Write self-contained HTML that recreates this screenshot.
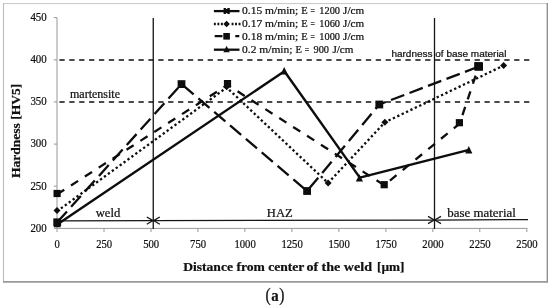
<!DOCTYPE html>
<html><head><meta charset="utf-8"><title>Hardness chart</title>
<style>
html,body{margin:0;padding:0;background:#fff;}
body{width:550px;height:308px;overflow:hidden;}
svg{display:block;}
text{font-family:"Liberation Serif","DejaVu Serif",serif;fill:#111;stroke:#111;stroke-width:0.22px;}
.t{font-size:11.5px;}
.l{font-size:10.5px;}
.b{font-weight:bold;}
.s{font-family:"Liberation Sans","DejaVu Sans",sans-serif;}
</style></head><body>
<svg width="550" height="308" viewBox="0 0 550 308">
<rect x="0" y="0" width="550" height="308" fill="#fff"/>
<path d="M3 3.6H547.8" stroke="#c6c6c6" stroke-width="1" fill="none"/>
<path d="M3.5 3.3V282.6" stroke="#bcbcbc" stroke-width="1.1" fill="none"/>
<path d="M547.3 3.1V282.6" stroke="#929292" stroke-width="1.4" fill="none"/>
<path d="M3 281.8H548" stroke="#999" stroke-width="1.8" fill="none"/>

<g stroke="#989898" stroke-width="1" fill="none">
<path d="M57.0 17.6V228.4H527.3"/>
<path d="M53.8 228.4H57.0"/>
<path d="M53.8 186.2H57.0"/>
<path d="M53.8 144.1H57.0"/>
<path d="M53.8 101.9H57.0"/>
<path d="M53.8 59.8H57.0"/>
<path d="M53.8 17.6H57.0"/>
<path d="M57.0 228.4V232.0"/>
<path d="M104.0 228.4V232.0"/>
<path d="M151.0 228.4V232.0"/>
<path d="M197.9 228.4V232.0"/>
<path d="M244.9 228.4V232.0"/>
<path d="M291.9 228.4V232.0"/>
<path d="M338.9 228.4V232.0"/>
<path d="M385.9 228.4V232.0"/>
<path d="M432.8 228.4V232.0"/>
<path d="M479.8 228.4V232.0"/>
<path d="M526.8 228.4V232.0"/>
</g>
<g class="t" text-anchor="end">
<text x="46.7" y="21" textLength="16.3" lengthAdjust="spacingAndGlyphs">450</text>
<text x="46.7" y="63" textLength="16.3" lengthAdjust="spacingAndGlyphs">400</text>
<text x="46.7" y="105" textLength="16.3" lengthAdjust="spacingAndGlyphs">350</text>
<text x="46.7" y="147" textLength="16.3" lengthAdjust="spacingAndGlyphs">300</text>
<text x="46.7" y="190" textLength="16.3" lengthAdjust="spacingAndGlyphs">250</text>
<text x="46.7" y="232" textLength="16.3" lengthAdjust="spacingAndGlyphs">200</text>
</g>
<g class="t" text-anchor="middle">
<text x="57.2" y="248" textLength="5.3" lengthAdjust="spacingAndGlyphs">0</text>
<text x="104.2" y="248" textLength="16.0" lengthAdjust="spacingAndGlyphs">250</text>
<text x="151.2" y="248" textLength="16.0" lengthAdjust="spacingAndGlyphs">500</text>
<text x="198.1" y="248" textLength="16.0" lengthAdjust="spacingAndGlyphs">750</text>
<text x="245.1" y="248" textLength="21.4" lengthAdjust="spacingAndGlyphs">1000</text>
<text x="292.1" y="248" textLength="21.4" lengthAdjust="spacingAndGlyphs">1250</text>
<text x="339.1" y="248" textLength="21.4" lengthAdjust="spacingAndGlyphs">1500</text>
<text x="386.1" y="248" textLength="21.4" lengthAdjust="spacingAndGlyphs">1750</text>
<text x="433.0" y="248" textLength="21.4" lengthAdjust="spacingAndGlyphs">2000</text>
<text x="480.0" y="248" textLength="21.4" lengthAdjust="spacingAndGlyphs">2250</text>
<text x="527.0" y="248" textLength="21.4" lengthAdjust="spacingAndGlyphs">2500</text>
</g>
<g stroke="#111" stroke-width="1.5" stroke-dasharray="5.3 4.586" stroke-dashoffset="8.49" fill="none">
<path d="M58 59.9H530"/>
<path d="M58 101.9H530"/>
</g>
<g stroke="#151515" stroke-width="1.3" fill="none">
<path d="M153.25 18V229"/>
<path d="M434.5 18V229"/>
<path d="M58 220.8L153.3 220.6L434.5 220L528 219.6" stroke-width="1.25"/>
<path d="M146.8 217.0L153.0 220.6L146.8 224.2" stroke-width="1.25"/>
<path d="M159.8 217.0L153.6 220.6L159.8 224.2" stroke-width="1.25"/>
<path d="M428.0 216.4L434.2 220.0L428.0 223.6" stroke-width="1.25"/>
<path d="M441.0 216.4L434.8 220.0L441.0 223.6" stroke-width="1.25"/>
</g>
<g stroke="#0d0d0d" stroke-width="2.3" fill="none" stroke-linejoin="round">
<path d="M57.2 222.3L181.5 84.1L307.1 191.0L379.3 104.5" stroke-dasharray="14.6 6.2"/>
<path d="M379.3 104.5L478.7 66.6" stroke-dasharray="14.2 5.6" stroke-dashoffset="7.3"/>
<path d="M57.0 211.3L226.7 87.5L328.1 183.0L384.9 122.3L503.6 65.6" stroke-dasharray="2.3 2.55"/>
<path d="M57.1 194.4L227.5 84.9L384.2 185.2L459.6 123.6L478.7 66.6" stroke-dasharray="8.5 8"/>
<path d="M57.2 224.4L284.4 71.2L359.8 177.6L468.0 150.1" stroke-width="2.4"/>
</g>
<g fill="#0d0d0d" stroke="none">
<rect x="53.3" y="218.4" width="7.8" height="7.8"/>
<rect x="177.6" y="80.2" width="7.8" height="7.8"/>
<rect x="303.2" y="187.1" width="7.8" height="7.8"/>
<rect x="375.4" y="100.6" width="7.8" height="7.8"/>
<rect x="474.8" y="62.5" width="8.2" height="8.2"/>
<path d="M53.5 210.6L57.0 207.1L60.5 210.6L57.0 214.1Z"/>
<path d="M223.2 86.8L226.7 83.3L230.2 86.8L226.7 90.3Z"/>
<path d="M324.6 183.0L328.1 179.5L331.6 183.0L328.1 186.5Z"/>
<path d="M381.4 122.3L384.9 118.8L388.4 122.3L384.9 125.8Z"/>
<path d="M500.1 65.6L503.6 62.1L507.1 65.6L503.6 69.1Z"/>
<rect x="53.5" y="189.9" width="7.2" height="7.2"/>
<rect x="223.9" y="80.0" width="7.2" height="7.2"/>
<rect x="380.6" y="181.1" width="7.2" height="7.2"/>
<rect x="455.8" y="119.1" width="7.2" height="7.2"/>
<rect x="474.2" y="62.1" width="8.2" height="8.2"/>
<path d="M53.6 227.2L57.2 219.8L60.8 227.2Z"/>
<path d="M280.6 74.5L284.2 67.1L287.8 74.5Z"/>
<path d="M355.8 181.6L359.4 174.2L363.0 181.6Z"/>
<path d="M465.2 153.4L468.8 146.0L472.4 153.4Z"/>
</g>
<rect x="209" y="5" width="158" height="50" fill="#fff"/>
<g stroke="#0d0d0d" stroke-width="2.3" fill="none">
<path d="M213.9 11.1H239.5"/>
<path d="M213.9 24.0H222.9M231.6 24.0H240.6" stroke-dasharray="1.9 1.6"/>
<path d="M214.7 36.2H222.5M235.3 36.2H239.3"/>
<path d="M213.9 49.7H239.5"/>
</g>
<g fill="#0d0d0d">
<path d="M223.6 7.9H225.6L226.7 9.2L227.8 7.9H229.8V14.1H227.8L226.7 12.8L225.6 14.1H223.6Z"/>
<path d="M223.3 24.0L226.6 20.7L229.9 24.0L226.6 27.3Z"/>
<rect x="223.3" y="33.0" width="6.6" height="6.6"/>
<path d="M223.4 52.2L226.6 45.7L229.8 52.2Z"/>
</g>
<g class="l">
<text x="242.0" y="14.0" textLength="56.3" lengthAdjust="spacingAndGlyphs">0.15 m/min;</text>
<text x="301.2" y="14.0" textLength="6.4" lengthAdjust="spacingAndGlyphs">E</text>
<text x="310.6" y="14.0" textLength="4.4" lengthAdjust="spacingAndGlyphs">=</text>
<text x="319.3" y="14.0" textLength="20.7" lengthAdjust="spacingAndGlyphs">1200</text>
<text x="343.1" y="14.0" textLength="21.0" lengthAdjust="spacingAndGlyphs">J/cm</text>
<text x="242.0" y="27.0" textLength="56.3" lengthAdjust="spacingAndGlyphs">0.17 m/min;</text>
<text x="301.2" y="27.0" textLength="6.4" lengthAdjust="spacingAndGlyphs">E</text>
<text x="310.6" y="27.0" textLength="4.4" lengthAdjust="spacingAndGlyphs">=</text>
<text x="319.3" y="27.0" textLength="20.7" lengthAdjust="spacingAndGlyphs">1060</text>
<text x="343.1" y="27.0" textLength="21.0" lengthAdjust="spacingAndGlyphs">J/cm</text>
<text x="242.0" y="40.0" textLength="56.3" lengthAdjust="spacingAndGlyphs">0.18 m/min;</text>
<text x="301.2" y="40.0" textLength="6.4" lengthAdjust="spacingAndGlyphs">E</text>
<text x="310.6" y="40.0" textLength="4.4" lengthAdjust="spacingAndGlyphs">=</text>
<text x="319.3" y="40.0" textLength="20.7" lengthAdjust="spacingAndGlyphs">1000</text>
<text x="343.1" y="40.0" textLength="21.0" lengthAdjust="spacingAndGlyphs">J/cm</text>
<text x="242.0" y="53.0" textLength="50.5" lengthAdjust="spacingAndGlyphs">0.2 m/min;</text>
<text x="295.4" y="53.0" textLength="6.4" lengthAdjust="spacingAndGlyphs">E</text>
<text x="304.8" y="53.0" textLength="4.4" lengthAdjust="spacingAndGlyphs">=</text>
<text x="313.5" y="53.0" textLength="15.5" lengthAdjust="spacingAndGlyphs">900</text>
<text x="332.4" y="53.0" textLength="21.0" lengthAdjust="spacingAndGlyphs">J/cm</text>
</g>
<g>
<text font-size="11.6" x="70" y="98" textLength="50" lengthAdjust="spacingAndGlyphs">martensite</text>
<text font-size="12" x="95.7" y="217" textLength="24.6" lengthAdjust="spacingAndGlyphs">weld</text>
<text font-size="12" x="266.8" y="217" textLength="26" lengthAdjust="spacingAndGlyphs">HAZ</text>
<text font-size="12" x="447.3" y="217" textLength="68.5" lengthAdjust="spacingAndGlyphs">base material</text>
<text class="s" font-size="9.5" x="391.4" y="57" textLength="115" lengthAdjust="spacingAndGlyphs">hardness of base material</text>
</g>
<text class="b" font-size="12.5" x="183.2" y="271" textLength="121.2" lengthAdjust="spacingAndGlyphs">Distance from center</text>
<text class="b" font-size="12.5" x="306.4" y="271" textLength="65.6" lengthAdjust="spacingAndGlyphs">of the weld</text>
<text class="b" font-size="12.5" x="377.0" y="271" textLength="27.4" lengthAdjust="spacingAndGlyphs">[µm]</text>
<text class="b" font-size="13.3" transform="translate(20.3,178.0) rotate(-90)" textLength="94.2" lengthAdjust="spacingAndGlyphs">Hardness [HV5]</text>
<text font-size="18" x="265.4" y="301" textLength="5.2" lengthAdjust="spacingAndGlyphs">(</text>
<text font-size="16" font-weight="bold" x="271.2" y="301" textLength="7.4" lengthAdjust="spacingAndGlyphs">a</text>
<text font-size="18" x="279.2" y="301" textLength="5.2" lengthAdjust="spacingAndGlyphs">)</text>
</svg></body></html>
